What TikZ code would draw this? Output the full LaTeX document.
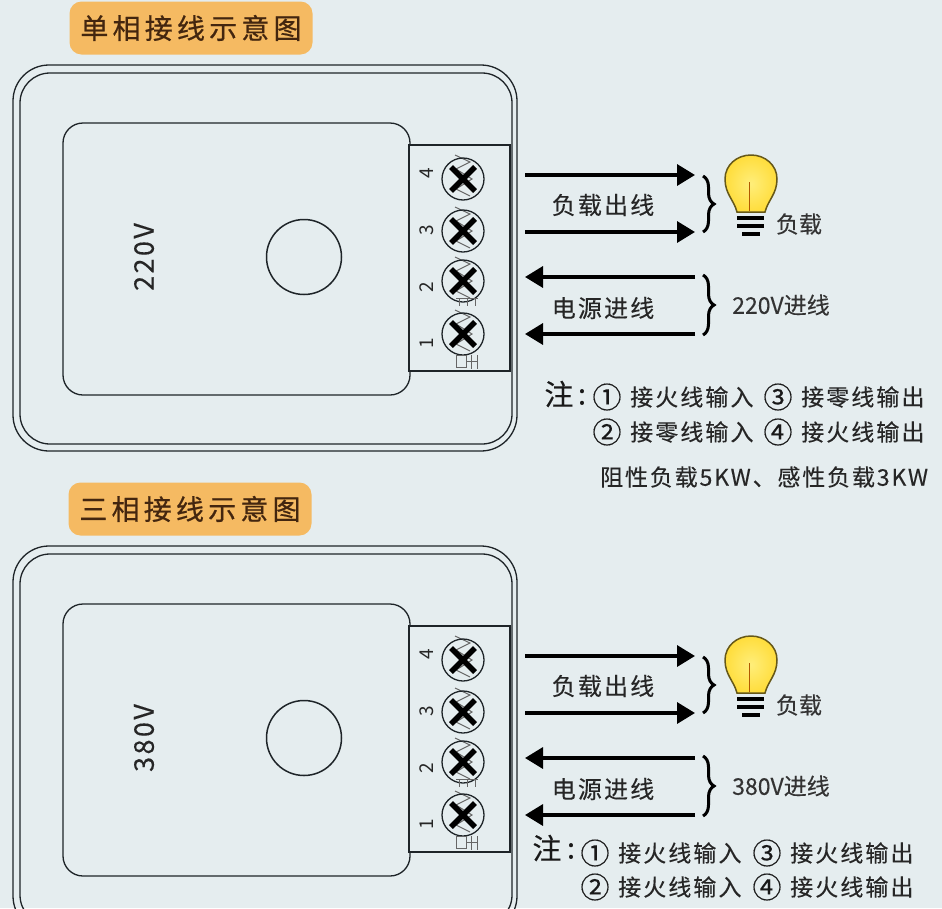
\documentclass[tikz,border=0pt]{standalone}
\usepackage{fontspec}
\setmainfont{Noto Sans CJK SC}
\newfontfamily\plainfont[FakeBold=0.25]{Noto Sans CJK SC}
\newfontfamily\labelfont[LetterSpace=9,FakeBold=0.25]{Noto Sans CJK SC}
\newfontfamily\ratingfont[LetterSpace=8,FakeBold=0.25]{Noto Sans CJK SC}
\newfontfamily\titlefont[LetterSpace=15,FakeBold=0.6]{Noto Sans CJK SC}
\usepackage{tikz}
\usetikzlibrary{arrows.meta}
\usetikzlibrary{decorations.pathreplacing}
\definecolor{paper}{HTML}{E5EDEF}
\definecolor{inkline}{HTML}{1E2428}
\definecolor{titlefill}{HTML}{F5BA62}
\definecolor{titleink}{HTML}{43260F}
\definecolor{lampfill}{HTML}{FFDD3C}
\definecolor{lampglow}{HTML}{FFEE7A}
\tikzset{
	case/.style={draw=inkline, line width=1.3pt},
	wire/.style={draw=black, line width=3.4pt, -{Triangle[length=18pt,width=21pt]}, shorten >=-1pt},
	bracket/.style={draw=black, line width=3pt, decorate, decoration={brace,amplitude=11pt}},
	titlebox/.style={fill=titlefill, rounded corners=12pt, minimum width=243pt, minimum height=53pt,
		text=titleink, inner sep=0pt, font=\titlefont\fontsize{28}{30}\selectfont},
	wirelabel/.style={text=black!85, inner sep=0pt, font=\labelfont\fontsize{24}{26}\selectfont},
	smalllabel/.style={text=black!80, inner sep=0pt, font=\plainfont\fontsize{23}{24}\selectfont},
	notetext/.style={anchor=west, text=black!85, inner sep=0pt, font=\labelfont\fontsize{23}{26}\selectfont},
	notemark/.style={text=black!90, inner sep=0pt, font=\plainfont\fontsize{29}{30}\selectfont},
	termnum/.style={rotate=90, text=black!85, inner sep=0pt, font=\fontsize{19}{20}\selectfont},
	screw/.style={circle, draw=inkline, line width=1.3pt, minimum size=42pt, inner sep=0pt},
	ghost/.style={draw=black!60, line width=1pt}
}
\begin{document}
\begin{tikzpicture}[x=1pt, y=-1pt]
\useasboundingbox (0,0) rectangle (942,908);
\fill[paper] (0,0) rectangle (942,908);

% One block per wiring scheme, the second sits 481 lower than the first.
\foreach \dy/\p/\volt/\heading/\shiftx in {0/a/220V/单相接线示意图/0, 481/b/380V/三相接线示意图/-1} {
	\node[titlebox] (title\p) at (191+\shiftx,28+\dy) {\heading};

	% housing and the module inside it
	\draw[case, rounded corners=36pt] (13,65+\dy) rectangle (517,451+\dy);
	\draw[case, rounded corners=30pt] (20,73+\dy) rectangle (512,444+\dy);
	\draw[case, fill=paper, rounded corners=20pt] (63,123+\dy) rectangle (410,395+\dy);
	\node[circle, draw=inkline, line width=1.5pt, minimum size=75pt] (knob\p) at (304,257+\dy) {};
	\node[rotate=90, text=black!85, inner sep=0pt, font=\labelfont\fontsize{27}{28}\selectfont] (volt\p) at (144,257+\dy) {\volt};

	% terminal block
	\draw[case, fill=paper] (409,145+\dy) rectangle (510,371+\dy);
	\foreach \n/\sy/\ty in {4/179/173, 3/231/230, 2/281/287, 1/334/343} {
		\draw[ghost] (455,\sy-24+\dy) -- (470,\sy-17+\dy) -- (456,\sy-10+\dy)
			-- (472,\sy+\dy) -- (456,\sy+10+\dy) -- (470,\sy+17+\dy);
		\node[screw] (screw\n\p) at (463,\sy+\dy) {};
		\draw[black, line width=5.5pt] (451,\sy-12+\dy) -- (475,\sy+12+\dy)
			(451,\sy+12+\dy) -- (475,\sy-12+\dy);
		\node[termnum] (num\n\p) at (427,\ty+\dy) {\n};
	}
	% remains of the printed marks under the two lower screws
	\draw[ghost] (456,298+\dy) -- (478,298+\dy) (459,298+\dy) -- (459,306+\dy)
		(467,298+\dy) -- (467,306+\dy) (475,298+\dy) -- (475,306+\dy);
	\draw[ghost] (456,355+\dy) rectangle (466,367+\dy) (471,355+\dy) -- (471,369+\dy)
		(477,355+\dy) -- (477,369+\dy) (466,361+\dy) -- (478,361+\dy);

	% wires, load side goes out, supply side comes in
	\foreach \q/\wy in {4/175, 3/232} {
		\coordinate (from\q\p) at (525,\wy+\dy);
		\coordinate (to\q\p) at (694,\wy+\dy);
		\draw[wire] (from\q\p) -- (to\q\p);
	}
	\foreach \q/\wy in {2/277, 1/334} {
		\coordinate (from\q\p) at (695,\wy+\dy);
		\coordinate (to\q\p) at (526,\wy+\dy);
		\draw[wire] (from\q\p) -- (to\q\p);
	}
	\coordinate (loadtop\p) at (703,176+\dy);
	\coordinate (loadbot\p) at (703,232+\dy);
	\coordinate (linetop\p) at (703,275+\dy);
	\coordinate (linebot\p) at (703,335+\dy);
	\draw[bracket] (loadtop\p) -- (loadbot\p);
	\draw[bracket] (linetop\p) -- (linebot\p);
	\node[wirelabel] (load\p) at (603,205+\dy) {负载出线};
	\node[wirelabel] (line\p) at (603,308+\dy) {电源进线};
	\node[smalllabel] (lamp\p) at (799,224+\dy) {负载};
	\node[smalllabel] (feed\p) at (781,305+\dy) {\volt 进线};

	% lamp
	\draw[draw=black!60!lampfill, line width=1.5pt, inner color=lampglow, outer color=lampfill]
		(737,212+\dy) .. controls (734,200+\dy) and (725,194+\dy) .. (725,179+\dy)
		.. controls (725,165+\dy) and (737,155+\dy) .. (751,155+\dy)
		.. controls (765,155+\dy) and (777,165+\dy) .. (777,179+\dy)
		.. controls (777,194+\dy) and (768,200+\dy) .. (765,212+\dy) -- cycle;
	\draw[orange!70!black, line width=0.6pt] (749,182+\dy) -- (749,211+\dy);
	\draw[black, line width=3.6pt] (737,218+\dy) -- (764,218+\dy) (737,226+\dy) -- (764,226+\dy)
		(742,234+\dy) -- (760,234+\dy);
}

% Notes are worded differently in each scheme and sit in different places.
\node[notemark] (markA) at (559,394) {注};
\node[notemark] (colonA) at (582,397) {:};
\foreach \i/\nx/\ny/\mark/\wording in {1/607/397/①/接火线输入, 3/778/397/③/接零线输出, 2/607/432/②/接零线输入, 4/778/432/④/接火线输出} {
	\node[notemark] (ringA\i) at (\nx,\ny) {\mark};
	\node[notetext] (noteA\i) at (\nx+23,\ny) {\wording};
}
\node[notetext, font=\ratingfont\fontsize{23}{26}\selectfont] (ratingA) at (600,477) {阻性负载5KW、感性负载3KW};

\node[notemark] (markB) at (547,848) {注};
\node[notemark] (colonB) at (571,851) {:};
\foreach \i/\nx/\ny/\mark/\wording in {1/595/853/①/接火线输入, 3/767/853/③/接火线输出, 2/595/887/②/接火线输入, 4/767/887/④/接火线输出} {
	\node[notemark] (ringB\i) at (\nx,\ny) {\mark};
	\node[notetext] (noteB\i) at (\nx+23,\ny) {\wording};
}
\end{tikzpicture}
\end{document}
